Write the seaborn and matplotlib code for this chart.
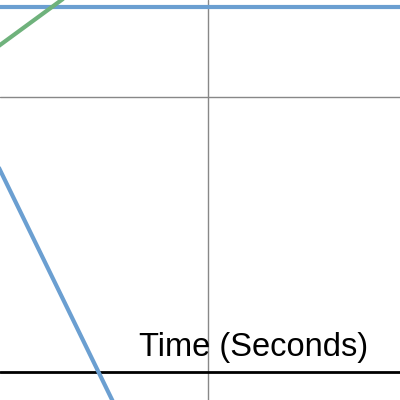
import numpy as np
import matplotlib
matplotlib.use("Agg")
import matplotlib.pyplot as plt
import seaborn as sns

sns.set_style("white")
plt.rcParams['font.family'] = ['Liberation Sans', 'DejaVu Sans']

# series (time in seconds, value)
flat_t = [-0.1, 2.0]
flat_v = [1.327, 1.327]
fall_t = [-0.1, 0.6]
fall_v = [0.824, -0.22]
rise_t = [-0.1, 0.3]
rise_v = [1.157, 1.37]

fig = plt.figure(figsize=(4, 4), dpi=100)
ax = fig.add_axes([0, 0, 1, 1])
ax.set_xlim(-0.04, 1.96)
ax.set_ylim(-0.1018, 1.3527)

ax.axvline(1.0, color='#888888', lw=1, zorder=0)
ax.axhline(1.0, color='#888888', lw=1, zorder=0)
ax.axhline(0.0, color='black', lw=2, zorder=1)

sns.lineplot(x=flat_t, y=flat_v, ax=ax, color='#6b9fd1', lw=3, sort=False)
sns.lineplot(x=fall_t, y=fall_v, ax=ax, color='#6b9fd1', lw=3, sort=False)
sns.lineplot(x=rise_t, y=rise_v, ax=ax, color='#6fb27c', lw=3, sort=False)

ax.text(0.92, 0.132, 'Time (Seconds)', transform=ax.transAxes, ha='right', va='center',
        fontsize=23.5, color='black')

for s in ax.spines.values():
    s.set_visible(False)
ax.set_xticks([])
ax.set_yticks([])
fig.savefig('out.png', dpi=100)
